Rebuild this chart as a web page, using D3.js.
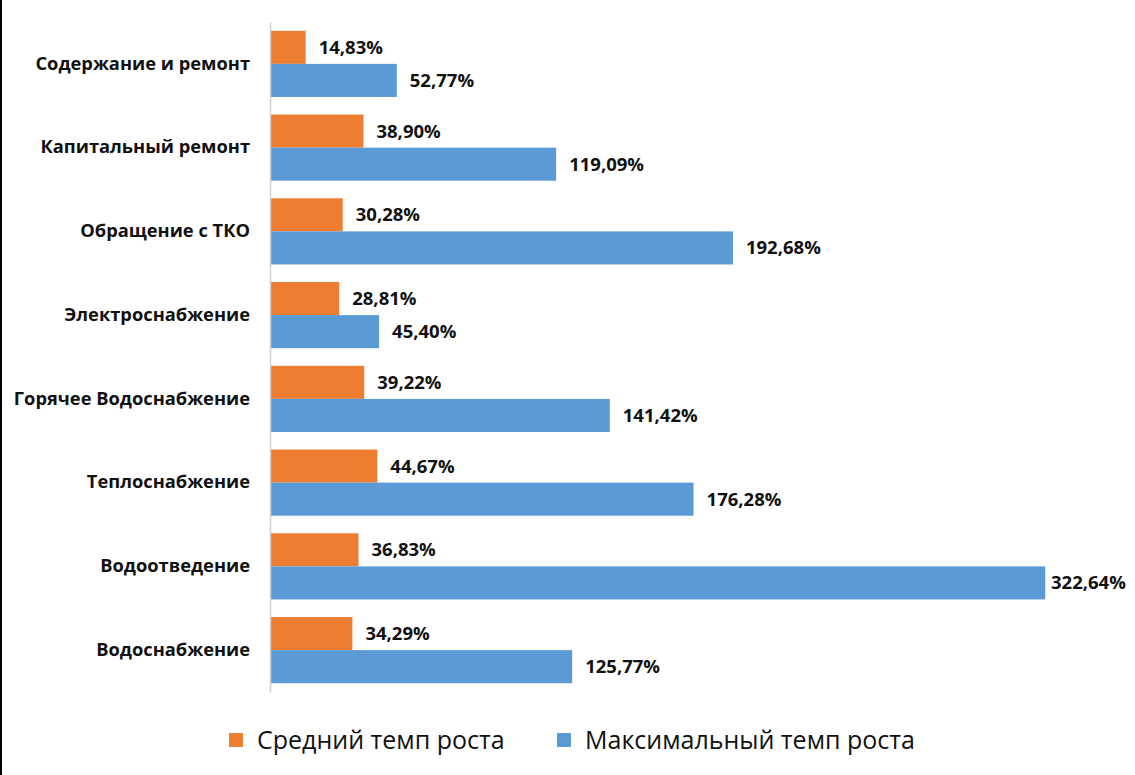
<!DOCTYPE html>
<html>
<head>
<meta charset="utf-8">
<script src="https://cdn.jsdelivr.net/npm/d3@7"></script>
<style>
  body { margin: 0; background: #fff; }
  svg { display: block; }
</style>
</head>
<body>
<svg id="chart" width="1135" height="775"></svg>
<script>
// categories, top to bottom
var categories = ['Содержание и ремонт', 'Капитальный ремонт', 'Обращение с ТКО', 'Электроснабжение',
  'Горячее Водоснабжение', 'Теплоснабжение', 'Водоотведение', 'Водоснабжение'];
var avgGrowth = [14.83, 38.90, 30.28, 28.81, 39.22, 44.67, 36.83, 34.29];
var maxGrowth = [52.77, 119.09, 192.68, 45.40, 141.42, 176.28, 322.64, 125.77];
var seriesNames = ['Средний темп роста', 'Максимальный темп роста'];
var seriesColors = ['#ED7D31', '#5B9BD5'];

var width = 1135, height = 775;
var font = '"Open Sans", "Liberation Sans", sans-serif';
var svg = d3.select('#chart');

// black left edge like the scanned original
svg.append('rect').attr('x', 0).attr('y', 0).attr('width', 2).attr('height', height).attr('fill', '#000');

var x = d3.scaleLinear().domain([0, 350]).range([270, 1111]);
var y = d3.scaleBand().domain(categories).range([22, 692]).paddingInner(0.21).paddingOuter(0.105);
var sub = d3.scaleBand().domain([0, 1]).range([0, y.bandwidth()]);

var rows = categories.map(function (c, i) {
  return { name: c, values: [avgGrowth[i], maxGrowth[i]] };
});

var groups = svg.selectAll('g.row')
  .data(rows)
  .enter().append('g')
  .attr('class', 'row')
  .attr('transform', function (d) { return 'translate(0,' + y(d.name) + ')'; });

groups.selectAll('rect')
  .data(function (d) { return d.values; })
  .enter().append('rect')
  .attr('x', x(0))
  .attr('y', function (d, i) { return sub(i); })
  .attr('width', function (d) { return x(d) - x(0); })
  .attr('height', sub.bandwidth())
  .attr('fill', function (d, i) { return seriesColors[i]; });

function fmt(v) { return v.toFixed(2).replace('.', ',') + '%'; }

// value labels, pulled in near the right edge like the original
groups.selectAll('text.val')
  .data(function (d) { return d.values; })
  .enter().append('text')
  .attr('class', 'val')
  .attr('x', function (d) { return Math.min(x(d) + 13, 1051); })
  .attr('y', function (d, i) { return sub(i) + sub.bandwidth() / 2; })
  .attr('dy', '0.35em')
  .style('font-family', font)
  .style('font-weight', 'bold')
  .style('font-size', '18.5px')
  .style('fill', '#111')
  .text(fmt);

// category axis
var yAxis = svg.append('g')
  .attr('transform', 'translate(' + x(0) + ',0)')
  .call(d3.axisLeft(y).tickSize(0).tickPadding(20));
yAxis.select('.domain').attr('stroke', '#d0d0d0').attr('stroke-width', 1.5);
yAxis.selectAll('text')
  .style('font-family', font)
  .style('font-weight', 'bold')
  .style('font-size', '18.3px')
  .style('fill', '#111');

// legend
var legendX = [229, 557];
var legend = svg.selectAll('g.legend')
  .data(seriesNames)
  .enter().append('g')
  .attr('class', 'legend')
  .attr('transform', function (d, i) { return 'translate(' + legendX[i] + ',733)'; });
legend.append('rect')
  .attr('width', 14).attr('height', 14)
  .attr('fill', function (d, i) { return seriesColors[i]; });
legend.append('text')
  .attr('x', 28).attr('y', 7).attr('dy', '0.35em')
  .style('font-family', font)
  .style('font-size', '25px')
  .style('fill', '#111')
  .text(function (d) { return d; });
</script>
</body>
</html>
